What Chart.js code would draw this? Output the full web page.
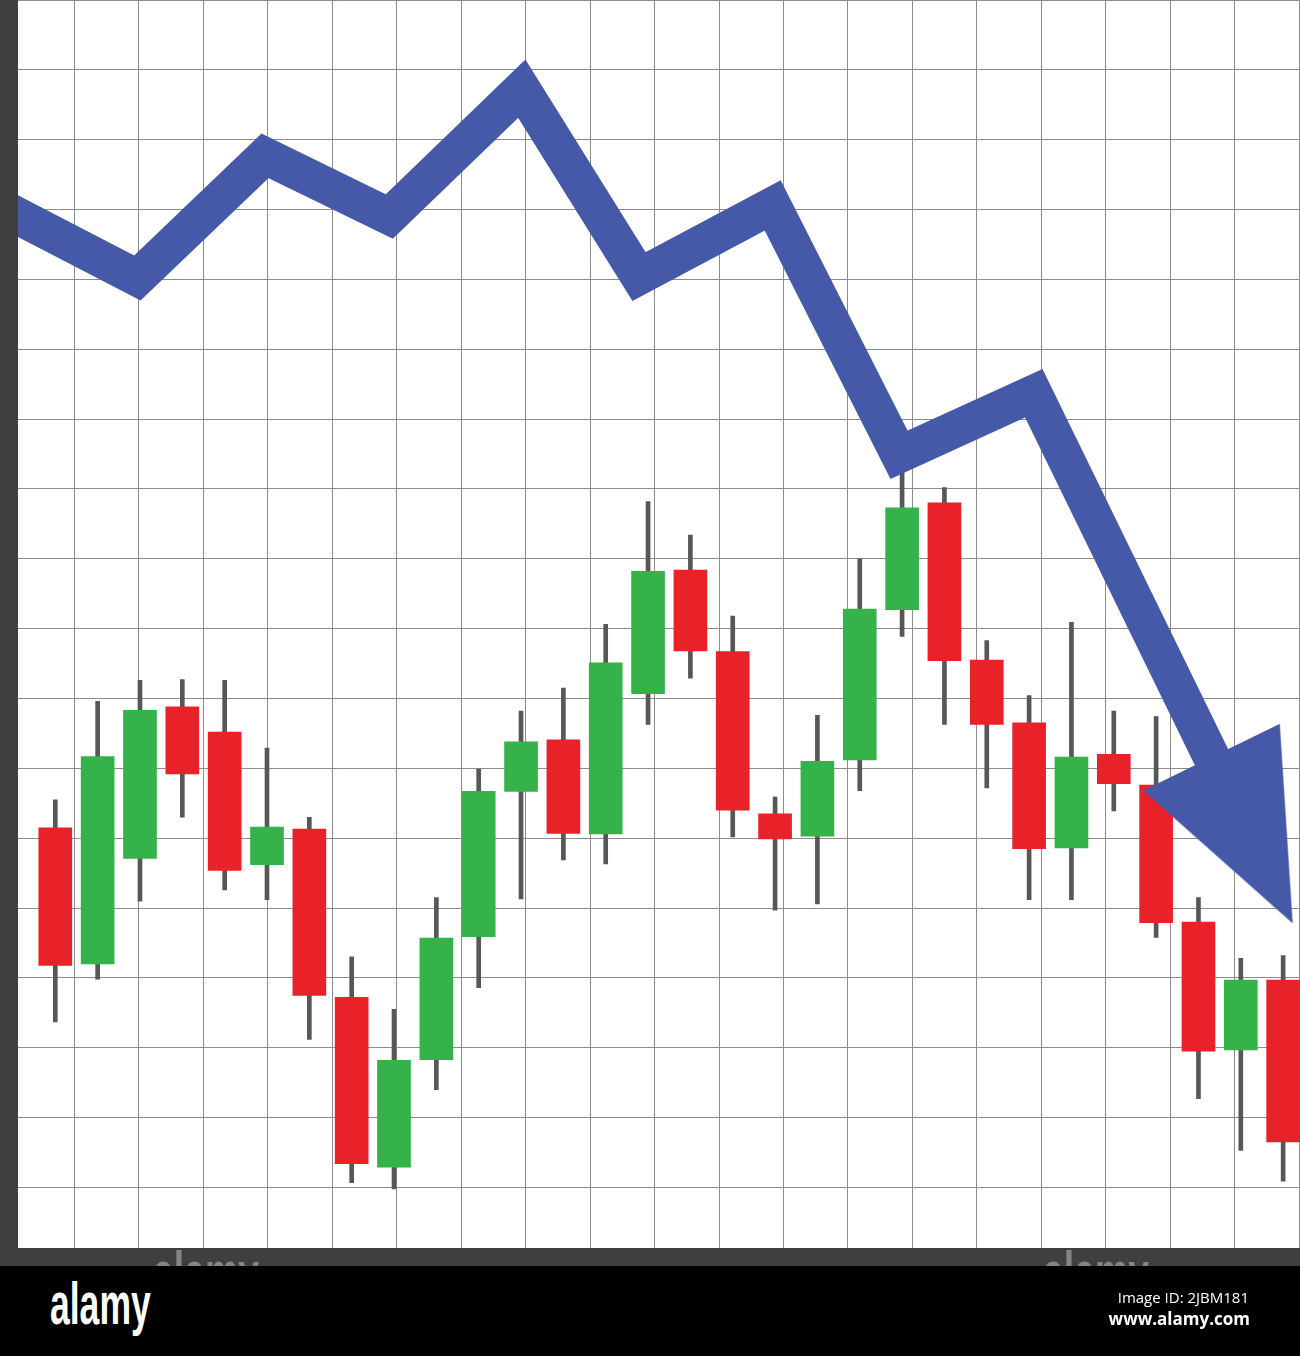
<!DOCTYPE html>
<html><head><meta charset="utf-8">
<script src="https://cdn.jsdelivr.net/npm/chart.js@4/dist/chart.umd.min.js"></script>
<style>
html,body{margin:0;padding:0;background:#000;}
#wrap{position:relative;width:1300px;height:1266px;background:#3f3f41;overflow:hidden;}
#wrap canvas{position:absolute;left:0;top:0;}
.wm{position:absolute;top:1243px;font-family:"Liberation Sans",Arial,sans-serif;font-weight:bold;font-size:48px;line-height:48px;color:#858587;transform:scale(0.78,1.25);transform-origin:left top;}
#footer{position:relative;width:1300px;height:90px;background:#000;color:#fff;}
#logo{position:absolute;left:50px;top:8px;font-family:"Liberation Sans",Arial,sans-serif;font-size:48px;line-height:48px;font-weight:bold;transform:scale(0.74,1.25);transform-origin:left top;}
#imgid{position:absolute;right:51px;top:22px;font-family:"Open Sans","Noto Sans",sans-serif;font-size:15px;line-height:18px;text-align:right;white-space:nowrap;}
#url{position:absolute;right:50px;top:43px;font-family:"Open Sans","Noto Sans",sans-serif;font-size:17px;line-height:20px;font-weight:bold;text-align:right;white-space:nowrap;}
</style></head>
<body>
<div id="wrap"><canvas id="c" width="1300" height="1266"></canvas>
<div class="wm" style="left:153px">alamy</div><div class="wm" style="left:1043px">alamy</div></div>
<div id="footer"><div id="logo">alamy</div><div id="imgid">Image ID: 2JBM181</div><div id="url">www.alamy.com</div></div>
<script>
const session = [0,1,2,3,4,5,6,7,8,9,10,11,12,13,14,15,16,17,18,19,20,21,22,23,24,25,26,27,28,29];
const open  = [51.5,32.0,47.1,68.8,65.2,46.2,51.3,27.2,2.9,18.3,35.9,56.7,64.1,50.6,70.7,88.4,76.7,53.5,50.3,61.2,82.7,98.0,75.5,66.5,48.6,62.0,57.6,38.0,19.7,29.7];
const close = [31.8,61.7,68.3,59.2,45.4,51.6,27.5,3.4,18.2,35.7,56.7,63.8,50.7,75.1,88.2,76.8,54.0,49.9,61.0,82.8,97.3,75.4,66.3,48.5,61.6,57.8,37.9,19.5,29.7,6.5];
const high  = [55.5,69.6,72.6,72.7,72.6,62.9,53.0,33.0,25.5,41.5,59.9,68.2,71.5,80.6,98.2,93.4,81.8,55.9,67.6,90.0,102.7,100.2,78.3,70.4,80.9,68.2,67.4,41.5,32.8,33.2];
const low   = [23.7,29.8,41.0,53.0,42.6,41.2,21.2,0.7,-0.2,14.0,28.6,41.3,46.9,46.3,66.3,72.9,50.2,39.7,40.6,56.8,78.9,66.3,57.2,41.2,41.2,53.9,35.8,12.7,5.3,0.9];
const trendX = [-1.306,1.937,4.953,7.889,11.018,13.786,16.944,19.927,23.110,27.308];
const trendY = [140.4,130.2,147.7,139.0,157.3,130.4,140.6,104.9,113.7,61.6];

const BLUE='#4559a8', GREEN='#35b24a', RED='#e92129', WICK='#575757', GRID='#8c8c8c';

const head = document.createElement('canvas');
head.width = 370; head.height = 152;
(function(){const g=head.getContext('2d');g.fillStyle=BLUE;g.beginPath();g.moveTo(185,0);g.lineTo(370,76);g.lineTo(185,152);g.closePath();g.fill();})();

const bgPlugin = {id:'bg', beforeDraw(c){const a=c.chartArea,g=c.ctx;g.save();g.fillStyle='#fff';g.fillRect(a.left,a.top,a.right-a.left,a.bottom-a.top);g.restore();}};
const last = trendX.length-1;

new Chart(document.getElementById('c'), {
  type:'bar',
  data:{datasets:[
    {type:'line', label:'Trend', data: trendX.map((x,i)=>({x:x, y:trendY[i]})),
     borderColor:BLUE, borderWidth:37, borderJoinStyle:'miter', borderCapStyle:'square', tension:0, fill:false, order:0, clip:0,
     pointRadius: c => c.dataIndex===last ? 10 : 0,
     pointHoverRadius: c => c.dataIndex===last ? 10 : 0,
     pointStyle: c => c.dataIndex===last ? head : 'circle',
     pointRotation: c => {
       const ch=c.chart, sx=ch.scales.x, sy=ch.scales.y;
       if(!sx||!sy) return 0;
       const dx = sx.getPixelForValue(trendX[last]) - sx.getPixelForValue(trendX[last-1]);
       const dy = sy.getPixelForValue(trendY[last]) - sy.getPixelForValue(trendY[last-1]);
       return Math.atan2(dy,dx)*180/Math.PI;
     },
     pointBackgroundColor:BLUE, pointBorderWidth:0},
    {label:'Body', data: session.map((s,i)=>({x:s, y:[open[i], close[i]]})),
     backgroundColor: session.map((s,i)=> close[i]>=open[i]?GREEN:RED),
     barThickness:33, grouped:false, order:1, borderWidth:0},
    {label:'Wick', data: session.map((s,i)=>({x:s, y:[low[i], high[i]]})),
     backgroundColor: WICK, barThickness:4, grouped:false, order:2, borderWidth:0}
  ]},
  options:{
    responsive:false, animation:false, events:[],
    layout:{autoPadding:false, padding:{left:18,bottom:18,top:0,right:0}},
    plugins:{legend:{display:false}, tooltip:{enabled:false}},
    scales:{
      x:{type:'linear', min:-0.881, max:29.398, offset:false, display:false, grid:{display:false, offset:false}},
      xg:{type:'linear', axis:'x', position:'bottom', min:-0.8767, max:19.0147, offset:false,
          ticks:{display:false, stepSize:1, includeBounds:false},
          grid:{color:GRID, lineWidth:1, drawTicks:false, offset:false}, border:{display:false}},
      y:{type:'linear', min:-8.67, max:170,
         ticks:{display:false, stepSize:10, includeBounds:false},
         grid:{color:GRID, lineWidth:1, drawTicks:false}, border:{display:false}}
    }
  },
  plugins:[bgPlugin]
});
</script>
</body></html>
